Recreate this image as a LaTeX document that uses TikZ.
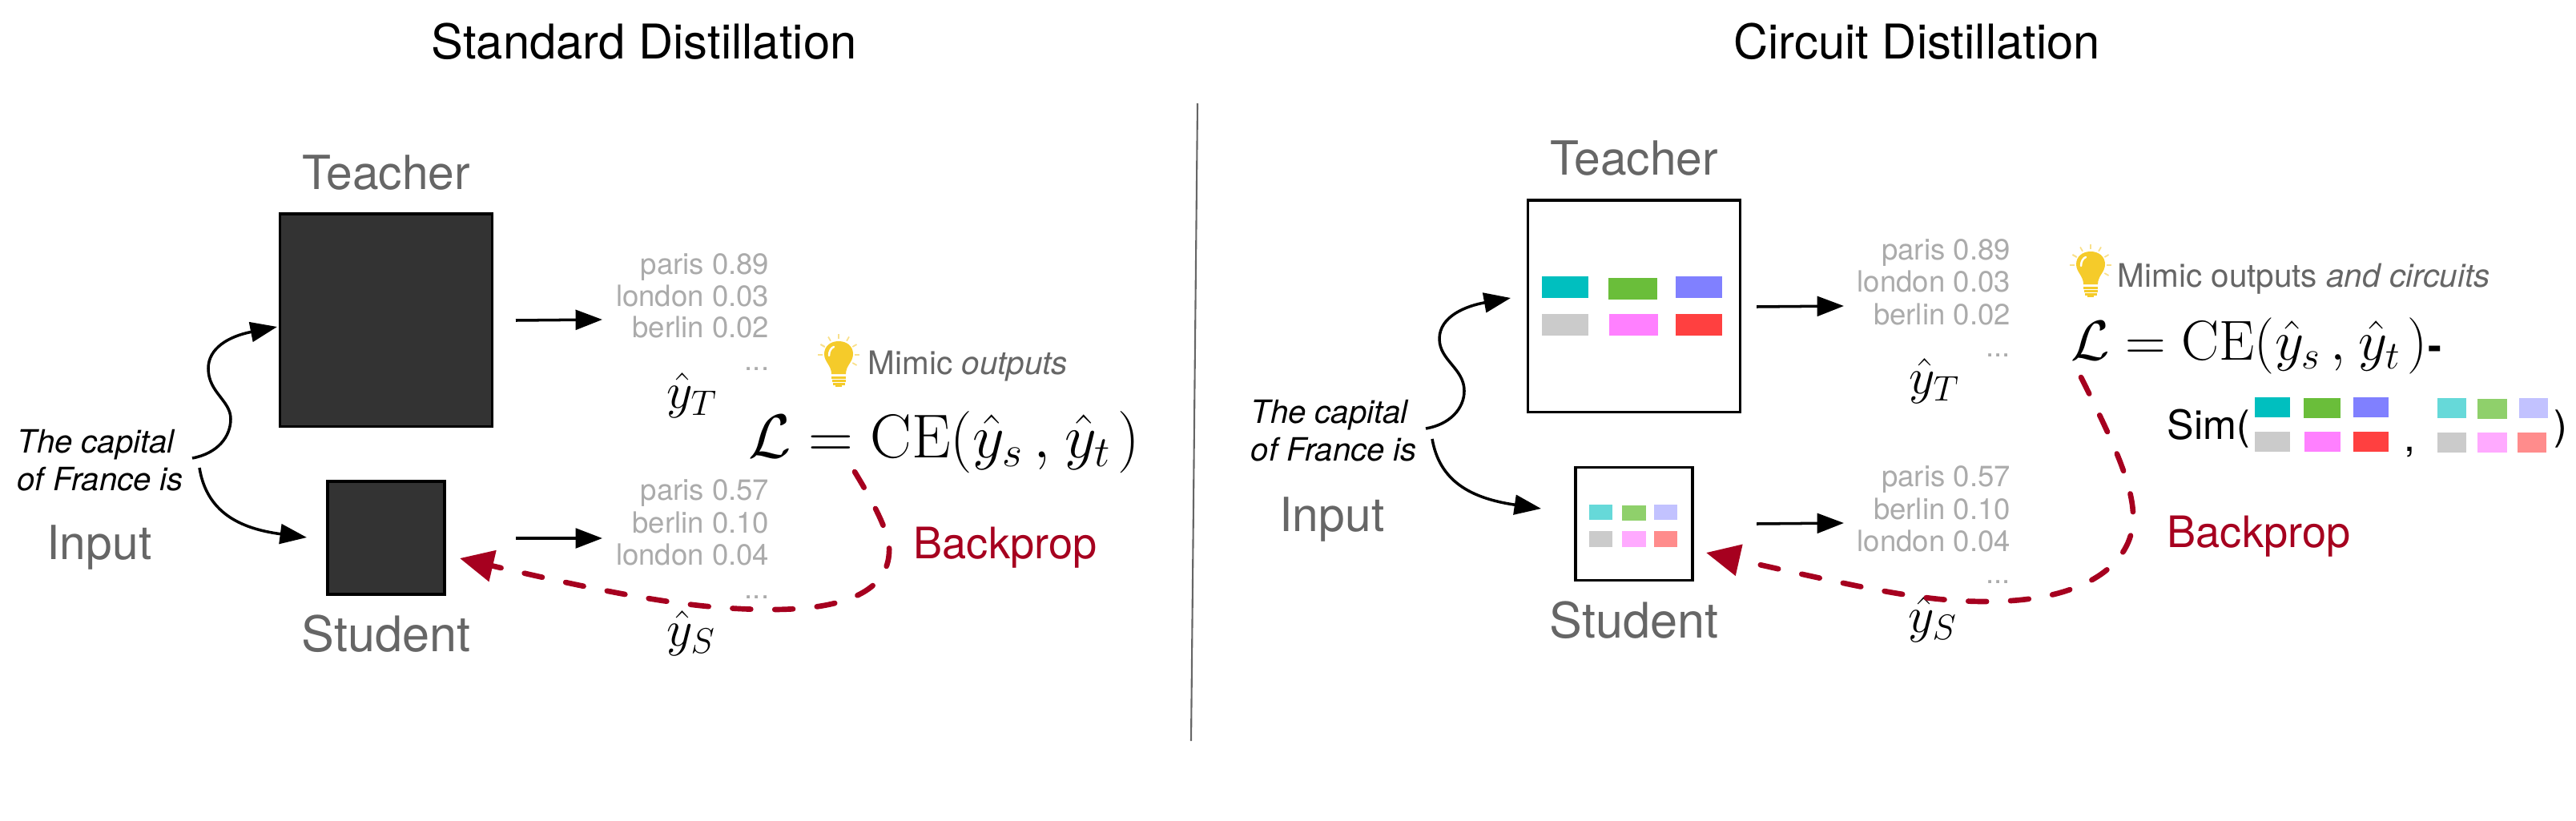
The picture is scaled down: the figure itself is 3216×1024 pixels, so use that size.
\documentclass[tikz,border=0pt]{standalone}
\usepackage{fix-cm}
\usepackage[no-math]{fontspec}
\setmainfont{TeX Gyre Heros}
\usepackage{amsmath,amsfonts,amssymb}
\usetikzlibrary{arrows.meta}

\definecolor{rolegray}{HTML}{666666}
\definecolor{listgray}{HTML}{ABABAB}
\definecolor{backred}{HTML}{A6001F}
\definecolor{boxdark}{HTML}{333333}
\definecolor{bulbyel}{HTML}{F5CB2A}
\definecolor{bulbray}{HTML}{F9E08A}
\definecolor{ccyan}{HTML}{00BFBF}
\definecolor{cgreen}{HTML}{6ABE3A}
\definecolor{cblue}{HTML}{8080FF}
\definecolor{cgrey}{HTML}{CBCBCB}
\definecolor{cpink}{HTML}{FF80FF}
\definecolor{cred}{HTML}{FF4040}
\definecolor{lcyan}{HTML}{66D9D9}
\definecolor{lgreen}{HTML}{8FD06B}
\definecolor{lblue}{HTML}{C2C2FF}
\definecolor{lpink}{HTML}{FFAAFF}
\definecolor{lred}{HTML}{FF8C8C}

\newcommand{\moredots}{...}
\newcommand{\lossterm}{\mathcal{L}=\mathrm{CE}(\hat{y}_s\,,\mskip 1mu\hat{y}_t\mskip 2mu)}

\tikzset{
  lbl/.style={anchor=base,inner sep=0pt},
  headline/.style={lbl,font=\fontsize{17pt}{20pt}\selectfont},
  role/.style={lbl,text=rolegray,font=\fontsize{16.7pt}{19pt}\selectfont},
  studentlbl/.style={role,font=\fontsize{17.4pt}{19pt}\selectfont},
  prompt/.style={lbl,anchor=base west,font=\fontsize{11.4pt}{13pt}\selectfont\itshape},
  listtxt/.style={lbl,anchor=base east,text=listgray,font=\fontsize{10.4pt}{12pt}\selectfont},
  mimic/.style={lbl,anchor=base west,text=rolegray,font=\fontsize{11.5pt}{14pt}\selectfont},
  bprop/.style={lbl,anchor=base west,text=backred,font=\fontsize{15.4pt}{18pt}\selectfont},
  simtxt/.style={lbl,anchor=base west,font=\fontsize{14.3pt}{17pt}\selectfont},
  model/.style={draw=black,line width=.9pt,inner sep=0pt,rectangle},
  flow/.style={draw=black,line width=1pt,-{Triangle[length=9.5pt,width=7pt]}},
  grad/.style={draw=backred,line width=1.9pt,line cap=round,dash pattern=on 6.5pt off 8.5pt,
    -{Triangle[length=12pt,width=11pt]}},
  bulb/.pic={
    \foreach \a in {30,0,-30,-60,-90,-120,-150,180,210}
      \draw[bulbray,line width=.5pt] (\a:20) -- (\a:26);
    \fill[bulbyel] (-9,24) .. controls (-9,13) and (-18,9) .. (-18,-1)
      .. controls (-18,-11) and (-10,-17) .. (0,-17)
      .. controls (10,-17) and (18,-11) .. (18,-1)
      .. controls (18,9) and (9,13) .. (9,24) -- cycle;
    \draw[white,line width=.7pt,line cap=round] (-12,1) .. controls (-12,-5) and (-9,-9) .. (-6,-10);
    \foreach \yb/\wb in {27/9,31/8.5,35/7.5}
      \fill[bulbyel] (-\wb,\yb) rectangle (\wb,\yb+2.6);
    \fill[bulbyel] (-4,38) rectangle (4,40);
  }
}

\begin{document}
\begin{tikzpicture}[x=.01cm,y=-.01cm]
\useasboundingbox (0,0) rectangle (3216,1024);

\node[headline] (titleA) at (804,73) {Standard Distillation};
\node[headline] (titleB) at (2393,73) {Circuit Distillation};

\coordinate (sepTop) at (1495,129);
\coordinate (sepBot) at (1487,925);
\draw[rolegray,line width=.6pt] (sepTop) -- (sepBot);

% standard
\node[model,fill=boxdark,minimum width=2.65cm,minimum height=2.65cm] (teacherA) at (482,399.5) {};
\node[model,fill=boxdark,minimum width=1.46cm,minimum height=1.41cm] (studentA) at (482,671.5) {};
\node[role] (tlabelA) at (482,236) {Teacher};
\node[studentlbl] (slabelA) at (482,813) {Student};
\node[role] (inputA) at (124,698) {Input};
\node[prompt] (promptA) at (21,565) {The capital};
\node[prompt] (promptAb) at (21,612) {of France is};

\foreach \w/\y/\n in {paris 0.89/342/a,london 0.03/382/b,berlin 0.02/421/c,\moredots/462/d,
    paris 0.57/624.5/e,berlin 0.10/665/f,london 0.04/705/g,\moredots/747/h}
  \node[listtxt] (listA\n) at (961,\y) {\w};

\coordinate (inAa) at (240,572);
\coordinate (inAb) at (249,584);
\coordinate (tipAa) at (346,408);
\coordinate (tipAb) at (383,671);
\draw[flow] (inAa) .. controls (272,566) and (288,545) .. (288,523)
  .. controls (288,500) and (260,490) .. (260,460)
  .. controls (260,435) and (285,420) .. (tipAa);
\draw[flow] (inAb) .. controls (258,640) and (300,660) .. (tipAb);

\coordinate (outAa) at (644,400);
\coordinate (endAa) at (752,399);
\coordinate (outAb) at (644,672);
\coordinate (endAb) at (752,672);
\draw[flow] (outAa) -- (endAa);
\draw[flow] (outAb) -- (endAb);

\node[lbl,font=\fontsize{18pt}{20pt}\selectfont] (yhatTA) at (864,509) {$\hat{y}_T$};
\node[lbl,font=\fontsize{18pt}{20pt}\selectfont] (yhatSA) at (863,806) {$\hat{y}_S$};

\pic at (1047,443) {bulb};
\node[mimic] (mimicA) at (1083,467) {Mimic \textit{outputs}};
\node[lbl,anchor=base west,font=\fontsize{22pt}{26pt}\selectfont] (lossA) at (934,571) {$\lossterm$};

\coordinate (gradAs) at (1067,589);
\coordinate (gradAe) at (574,697);
\draw[grad] (gradAs) .. controls (1095,635) and (1112,670) .. (1110,690)
  .. controls (1108,730) and (1070,761) .. (963,761)
  .. controls (870,761) and (780,745) .. (gradAe);
\node[bprop] (bpropA) at (1140,697) {Backprop};

% circuit
\node[model,fill=white,minimum width=2.65cm,minimum height=2.64cm] (teacherB) at (2040,382) {};
\node[model,fill=white,minimum width=1.46cm,minimum height=1.41cm] (studentB) at (2040,654) {};
\node[role] (tlabelB) at (2040,218) {Teacher};
\node[studentlbl] (slabelB) at (2040,796) {Student};
\node[role] (inputB) at (1663,663) {Input};
\node[prompt] (promptB) at (1561,528.5) {The capital};
\node[prompt] (promptBb) at (1561,575) {of France is};

\foreach \colr/\xa/\xb/\ya/\yb in {ccyan/1925/1983/345/372,cgreen/2008/2069/347/374,cblue/2092/2150/345/372,
    cgrey/1925/1983/392/419,cpink/2009/2070/392/419,cred/2092/2150/392/419,
    lcyan/1984/2013/630/649,lgreen/2025/2055/631/650,lblue/2065/2094/630/649,
    cgrey/1984/2013/663/683,lpink/2025/2055/663/683,lred/2065/2094/663/683}
  \fill[\colr] (\xa,\ya) rectangle (\xb,\yb);

\foreach \w/\y/\n in {paris 0.89/324.5/a,london 0.03/364.5/b,berlin 0.02/405/c,\moredots/445/d,
    paris 0.57/607/e,berlin 0.10/648/f,london 0.04/688/g,\moredots/728/h}
  \node[listtxt] (listB\n) at (2510.5,\y) {\w};

\coordinate (inBa) at (1780,535);
\coordinate (inBb) at (1788,548);
\coordinate (tipBa) at (1886,372);
\coordinate (tipBb) at (1924,635);
\draw[flow] (inBa) .. controls (1810,530) and (1828,510) .. (1828,488)
  .. controls (1828,460) and (1797,450) .. (1797,423)
  .. controls (1797,395) and (1830,382) .. (tipBa);
\draw[flow] (inBb) .. controls (1797,600) and (1835,622) .. (tipBb);

\coordinate (outBa) at (2193,383);
\coordinate (endBa) at (2302,382);
\coordinate (outBb) at (2193,654);
\coordinate (endBb) at (2302,653);
\draw[flow] (outBa) -- (endBa);
\draw[flow] (outBb) -- (endBb);

\node[lbl,font=\fontsize{18pt}{20pt}\selectfont] (yhatTB) at (2415,491) {$\hat{y}_T$};
\node[lbl,font=\fontsize{18pt}{20pt}\selectfont] (yhatSB) at (2413,789) {$\hat{y}_S$};

\pic at (2610,331) {bulb};
\node[mimic] (mimicB) at (2643,358.5) {Mimic outputs \textit{and circuits}};
\node[lbl,anchor=base west,font=\fontsize{20pt}{24pt}\selectfont] (lossB) at (2585,449.5) {$\lossterm$};
\node[lbl,anchor=base west,font=\fontsize{14.5pt}{17pt}\selectfont\bfseries] (minusB) at (3031,449) {-};

\node[simtxt] (simB) at (2705,548) {Sim(};
\foreach \colr/\xa/\xb/\ya/\yb in {ccyan/2815/2859/496/521,cgreen/2876/2922/497/522,cblue/2938/2982/496/521,
    cgrey/2815/2859/539/564,cpink/2877/2922/539/564,cred/2938/2982/539/564,
    lcyan/3043/3079/497/522,lgreen/3093/3130/498/523,lblue/3145/3181/497/522,
    cgrey/3043/3079/540/565,lpink/3093/3130/540/565,lred/3143/3179/540/565}
  \fill[\colr] (\xa,\ya) rectangle (\xb,\yb);
\node[simtxt] (commaB) at (3001,563) {,};
\node[simtxt] (closeB) at (3188,548) {)};

\coordinate (gradBs) at (2598,471);
\coordinate (gradBe) at (2130,690);
\draw[grad] (gradBs) .. controls (2640,555) and (2665,610) .. (2663,650)
  .. controls (2661,700) and (2610,751) .. (2480,751)
  .. controls (2400,751) and (2330,735) .. (gradBe);
\node[bprop] (bpropB) at (2705,683) {Backprop};
\end{tikzpicture}
\end{document}
